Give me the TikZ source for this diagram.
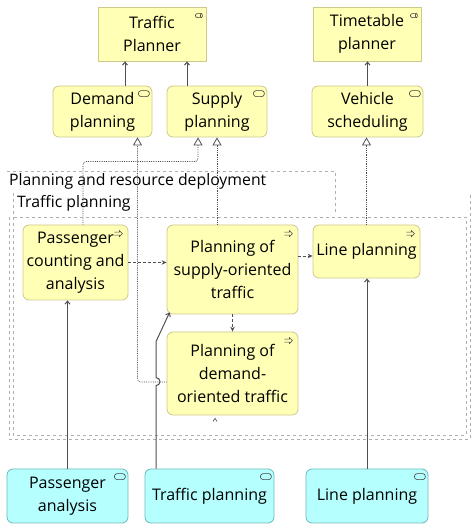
\documentclass[tikz,border=0pt]{standalone}
\usepackage{fontspec}
\setmainfont{Open Sans}
\usetikzlibrary{arrows.meta,calc}
\definecolor{busyellow}{RGB}{255,255,181}
\definecolor{busline}{RGB}{205,200,140}
\definecolor{appcyan}{RGB}{181,255,255}
\definecolor{appline}{RGB}{110,185,185}
\definecolor{relgray}{RGB}{80,80,80}
\definecolor{grpgray}{RGB}{175,175,175}
\tikzset{
  elem/.style={draw, line width=0.8pt, align=center, inner sep=1pt,
    font=\fontsize{16}{23}\selectfont},
  role/.style={elem, fill=busyellow, draw=busline},
  service/.style={elem, fill=busyellow, draw=busline, rounded corners=6pt},
  process/.style={service},
  appservice/.style={elem, fill=appcyan, draw=appline, rounded corners=6pt},
  icon/.style={draw=black!75, line width=0.6pt},
  grp/.style={draw=grpgray, line width=0.8pt, dashed},
  grplabel/.style={anchor=west, inner sep=0pt, font=\fontsize{15.8}{18}\selectfont},
  serve/.style={draw=relgray, line width=1pt, -{Straight Barb[length=3pt,width=5pt]}},
  realize/.style={draw=relgray, line width=0.8pt, densely dotted, rounded corners=3pt,
    -{Triangle[open,length=8pt,width=9pt,line width=0.8pt]}},
  trigger/.style={draw=relgray, line width=0.9pt, densely dashed,
    -{Stealth[length=5pt,width=4.5pt]}}%,
  % flow/.style={draw=relgray, dashed}
}
\begin{document}
\begin{tikzpicture}[x=1pt, y=1pt]
    \useasboundingbox (0,0) rectangle (474,530);
    % groups
    \draw[grp] (7,359) -- (335,359) -- (335,315);
    \draw[grp] (9,313) -- (9,91) -- (470,91) -- (470,337);
    \draw[grp] (13,337) -- (13,95) -- (466,95) -- (466,313) -- (13,313);
    \node[grplabel] (prd) at (9,349) {Planning and resource deployment};
    \node[grplabel] (tpg) at (17,327) {Traffic planning};
    % business layer
    \node[role, minimum width=108pt, minimum height=54pt] (tp) at (152,496) {Traffic\\Planner};
    \node[role, minimum width=108pt, minimum height=54pt] (ttp) at (367,496) {Timetable\\planner};
    \node[service, minimum width=99pt, minimum height=51pt] (dem) at (102.5,418.5) {Demand\\planning};
    \node[service, minimum width=100pt, minimum height=51pt] (sup) at (217,418.5) {Supply\\planning};
    \node[service, minimum width=111pt, minimum height=51pt] (veh) at (367.5,418.5) {Vehicle\\scheduling};
    \node[process, minimum width=105pt, minimum height=75pt] (pca) at (75.5,267.5) {Passenger\\counting and\\analysis};
    \node[process, minimum width=131pt, minimum height=89pt] (sot) at (232.5,260.5) {Planning of\\supply-oriented\\traffic};
    \node[process, minimum width=107pt, minimum height=53pt] (lpp) at (366.5,278.5) {Line planning};
    \node[process, minimum width=131pt, minimum height=83pt] (dot) at (232.5,156.5) {Planning of\\demand-\\oriented traffic};
    % application layer
    \node[appservice, minimum width=121pt, minimum height=54pt] (pan) at (67.5,34) {Passenger\\analysis};
    \node[appservice, minimum width=129pt, minimum height=54pt] (tap) at (209.5,34) {Traffic planning};
    \node[appservice, minimum width=122pt, minimum height=54pt] (lpa) at (367,34) {Line planning};
    % icons
    \foreach \n in {tp,ttp} {
      \draw[icon] ([shift={(-5pt,-7pt)}]\n.north east) -- ++(-4pt,0)
        arc[start angle=90, end angle=270, radius=2pt] -- ++(4pt,0);
      \draw[icon] ([shift={(-5pt,-9pt)}]\n.north east) ellipse[x radius=1pt, y radius=2pt];
    }
    \foreach \n in {dem,sup,veh,pan,tap,lpa}
      \draw[icon, rounded corners=2.8pt] ([shift={(-14pt,-11pt)}]\n.north east) rectangle ++(11pt,6pt);
    \foreach \n in {pca,sot,lpp,dot}
      \draw[icon] ([shift={(-14pt,-7.5pt)}]\n.north east) -- ++(5pt,0) -- ++(0,1.5pt)
        -- ++(3pt,-3pt) -- ++(-3pt,-3pt) -- ++(0,1.5pt) -- ++(-5pt,0);
    % relations
    \draw[serve] ([xshift=22.5pt]dem.north) -- ([xshift=22.5pt]dem.north |- tp.south);
    \draw[serve] ([xshift=-30pt]sup.north) -- ([xshift=-30pt]sup.north |- tp.south);
    \draw[serve] (veh.north) -- (veh.north |- ttp.south);
    \draw[realize] ([xshift=7.5pt]pca.north) -- ++(0,63) -| ([xshift=-19pt]sup.south);
    \draw[realize] ([xshift=-15.5pt]sot.north) -- (sup.south);
    \draw[realize] (lpp.north) -- (lpp.north |- veh.south);
    \draw[realize] ([yshift=-8.5pt]dot.west) -| ([xshift=35pt]dem.south);
    \draw[trigger] (pca.east) -- (pca.east -| sot.west);
    \draw[trigger] ([yshift=13.5pt]sot.east) -- ([yshift=13.5pt]sot.east -| lpp.west);
    \draw[trigger] (sot.south) -- (dot.north);
    \draw[serve] (pan.north) -- (pan.north |- pca.south);
    \draw[serve] ([xshift=-53.5pt]tap.north) -- ++(0,83)
      arc[start angle=-90, end angle=90, radius=4pt] -- ++(0,36) -- ([shift={(3pt,2pt)}]sot.south west);
    \draw[serve] (lpa.north) -- (lpa.north |- lpp.south);
    \draw[icon, draw=relgray] ([shift={(-19.5pt,-6pt)}]dot.south) -- ++(2pt,3pt) -- ++(2pt,-3pt);
\end{tikzpicture}
\end{document}
